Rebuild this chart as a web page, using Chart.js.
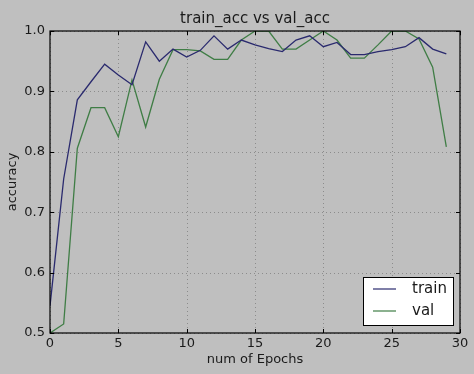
<!DOCTYPE html>
<html>
<head>
<meta charset="utf-8">
<script src="https://cdn.jsdelivr.net/npm/chart.js@4/dist/chart.umd.min.js"></script>
<style>
  html, body { margin: 0; padding: 0; background: #bfbfbf; }
  #wrap { width: 474px; height: 374px; }
</style>
</head>
<body>
<div id="wrap"><canvas id="c" width="474" height="374"></canvas></div>
<script>
const epochs = [0,1,2,3,4,5,6,7,8,9,10,11,12,13,14,15,16,17,18,19,20,21,22,23,24,25,26,27,28,29];
const trainAcc = [0.545,0.755,0.886,0.916,0.945,0.927,0.911,0.982,0.950,0.970,0.957,0.968,0.992,0.970,0.985,0.977,0.971,0.966,0.985,0.992,0.974,0.981,0.961,0.961,0.966,0.969,0.974,0.989,0.970,0.962];
const valAcc = [0.500,0.515,0.806,0.873,0.873,0.825,0.919,0.841,0.920,0.969,0.969,0.967,0.953,0.953,0.985,1.000,1.000,0.970,0.970,0.985,1.000,0.985,0.955,0.955,0.977,1.000,1.000,0.987,0.940,0.808];
const seriesNames = ['train', 'val'];
const xTicks = [0,5,10,15,20,25,30];
const yTicks = [0.5,0.6,0.7,0.8,0.9,1.0];
const titleText = 'train_acc vs val_acc';
const xTitle = 'num of Epochs';
const yTitle = 'accuracy';

const FONT = 'DejaVu Sans';
const TXT = '#1a1a1a';

const gridPlugin = {
  id: 'dottedGrid',
  beforeDatasetsDraw(chart) {
    const { ctx, chartArea: a, scales } = chart;
    ctx.save();
    ctx.strokeStyle = '#8c8c8c';
    ctx.lineWidth = 1;
    ctx.setLineDash([1, 3]);
    ctx.beginPath();
    xTicks.forEach(v => {
      const x = Math.round(scales.x.getPixelForValue(v)) + 0.5;
      ctx.moveTo(x, a.top); ctx.lineTo(x, a.bottom);
    });
    yTicks.forEach(v => {
      const y = Math.round(scales.y.getPixelForValue(v)) + 0.5;
      ctx.moveTo(a.left, y); ctx.lineTo(a.right, y);
    });
    ctx.stroke();
    ctx.restore();
  }
};

const framePlugin = {
  id: 'frame',
  afterDatasetsDraw(chart) {
    const { ctx, chartArea: a, scales } = chart;
    ctx.save();
    ctx.strokeStyle = '#000';
    ctx.lineWidth = 1;
    ctx.beginPath();
    xTicks.forEach(v => {
      const x = Math.round(scales.x.getPixelForValue(v)) + 0.5;
      ctx.moveTo(x, a.bottom); ctx.lineTo(x, a.bottom - 4);
      ctx.moveTo(x, a.top); ctx.lineTo(x, a.top + 4);
    });
    yTicks.forEach(v => {
      const y = Math.round(scales.y.getPixelForValue(v)) + 0.5;
      ctx.moveTo(a.left, y); ctx.lineTo(a.left + 4, y);
      ctx.moveTo(a.right, y); ctx.lineTo(a.right - 4, y);
    });
    ctx.stroke();
    ctx.lineWidth = 1.2;
    ctx.strokeRect(a.left, a.top, a.right - a.left, a.bottom - a.top);
    ctx.restore();
  }
};

const legendPlugin = {
  id: 'innerLegend',
  afterDraw(chart) {
    const { ctx, chartArea: a } = chart;
    const bw = 90, bh = 48;
    const bx = a.right - 7 - bw, by = a.bottom - 8 - bh;
    ctx.save();
    ctx.fillStyle = '#fff';
    ctx.fillRect(bx, by, bw, bh);
    ctx.strokeStyle = '#000';
    ctx.lineWidth = 1;
    ctx.strokeRect(bx + 0.5, by + 0.5, bw, bh);
    ctx.font = '15px "' + FONT + '"';
    ctx.textBaseline = 'middle';
    ctx.textAlign = 'left';
    chart.data.datasets.forEach((ds, i) => {
      const cy = by + 12 + i * 22;
      ctx.strokeStyle = ds.borderColor;
      ctx.lineWidth = 1.2;
      ctx.beginPath();
      ctx.moveTo(bx + 10, cy); ctx.lineTo(bx + 33, cy);
      ctx.stroke();
      ctx.fillStyle = TXT;
      ctx.fillText(ds.label, bx + 49, cy);
    });
    ctx.restore();
  }
};

new Chart(document.getElementById('c'), {
  type: 'line',
  data: {
    datasets: [
      { label: seriesNames[0], data: epochs.map((e, i) => ({ x: e, y: trainAcc[i] })),
        borderColor: '#2a2a6e', borderWidth: 1.3, pointRadius: 0, tension: 0, fill: false },
      { label: seriesNames[1], data: epochs.map((e, i) => ({ x: e, y: valAcc[i] })),
        borderColor: '#3f7d45', borderWidth: 1.3, pointRadius: 0, tension: 0, fill: false }
    ]
  },
  options: {
    responsive: false,
    animation: false,
    layout: { padding: { top: 0, right: 14, bottom: 0, left: 0 } },
    plugins: {
      legend: { display: false },
      tooltip: { enabled: false },
      title: {
        display: true, text: titleText, fullSize: false,
        color: TXT, font: { family: FONT, size: 15, weight: 'normal', lineHeight: 1.2 },
        padding: { top: 10, bottom: 3 }
      }
    },
    scales: {
      x: {
        type: 'linear', min: 0, max: 30,
        afterBuildTicks(s) { s.ticks = xTicks.map(v => ({ value: v })); },
        afterFit(s) { s.height = 41; },
        ticks: { color: TXT, font: { family: FONT, size: 13 }, padding: 3, maxRotation: 0,
                 callback: v => String(v) },
        grid: { display: false, drawTicks: false },
        border: { display: false },
        title: { display: true, text: xTitle, color: TXT, font: { family: FONT, size: 13 }, padding: { top: 0, bottom: 7 } }
      },
      y: {
        type: 'linear', min: 0.5, max: 1.0,
        afterBuildTicks(s) { s.ticks = yTicks.map(v => ({ value: v })); },
        afterFit(s) { s.width = 50; },
        ticks: { color: TXT, font: { family: FONT, size: 13 }, padding: 5,
                 callback: v => Number(v).toFixed(1) },
        grid: { display: false, drawTicks: false },
        border: { display: false },
        title: { display: true, text: yTitle, color: TXT, font: { family: FONT, size: 13 }, padding: { top: 5, bottom: 0 } }
      }
    }
  },
  plugins: [gridPlugin, framePlugin, legendPlugin]
});
</script>
</body>
</html>
